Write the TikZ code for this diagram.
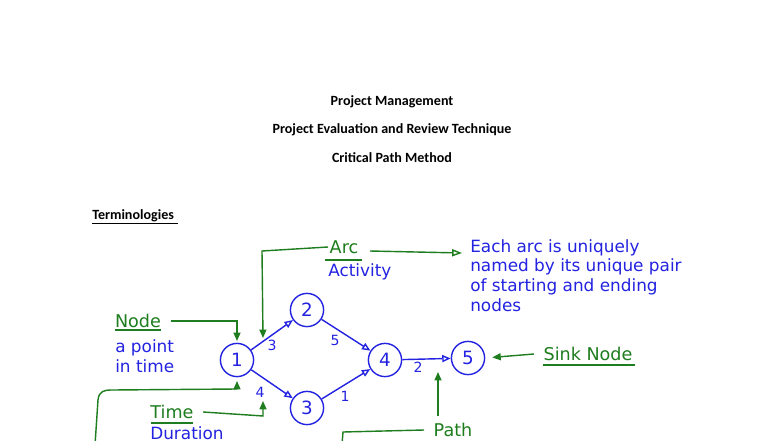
\documentclass[tikz,border=0pt]{standalone}
\usepackage{fontspec}
\setmainfont{Carlito}
\newfontfamily\handfont{DejaVu Sans}
\usetikzlibrary{positioning,arrows.meta}
\definecolor{inkblue}{RGB}{35,35,225}
\definecolor{inkgreen}{RGB}{30,125,30}

\tikzset{
  event/.style={circle,draw=inkblue,line width=1pt,minimum size=0.83cm,inner sep=0pt,
    text=inkblue,font=\handfont\fontsize{13}{13}\selectfont},
  activity/.style={draw=inkblue,line width=1pt,-{Triangle[open,length=6pt,width=5pt]}},
  weight/.style={text=inkblue,font=\handfont\fontsize{10}{10}\selectfont},
  pointer/.style={draw=inkgreen,line width=1pt,-{Triangle[length=6pt,width=5pt]}},
  openpointer/.style={draw=inkgreen,line width=1pt,-{Triangle[open,length=7pt,width=5pt]}},
  term/.style={text=inkgreen,font=\handfont\fontsize{12.5}{13}\selectfont,inner sep=1pt},
  meaning/.style={text=inkblue,font=\handfont\fontsize{12}{14}\selectfont,inner sep=0pt,align=left},
  heading/.style={font=\bfseries\fontsize{10}{10}\selectfont}
}

\begin{document}
\begin{tikzpicture}[x=0.025cm,y=-0.025cm]
  % Page size
  \useasboundingbox[fill=white] (0,0) rectangle (784,441);

  % Titles
  \node[heading] (t1) at (392,102) {Project Management};
  \node[heading] (t2) at (392,130) {Project Evaluation and Review Technique};
  \node[heading] (t3) at (392,158) {Critical Path Method};
  \node[heading,anchor=west,inner sep=0pt] (terms) at (92,216) {Terminologies};
  \draw (92,223) -- (178,223);

  % Network
  \node[event] (n1) at (237,360) {1};
  \node[event] (n2) at (307,310) {2};
  \node[event] (n3) at (307,408) {3};
  \node[event] (n4) at (385,360) {4};
  \node[event] (n5) at (468,358) {5};

  \draw[activity] (n1) -- (n2);
  \draw[activity] (n1) -- (n3);
  \draw[activity] (n2) -- (n4);
  \draw[activity] (n3) -- (n4);
  \draw[activity] (n4) -- (n5);

  \node[weight] (w12) at (272,345) {3};
  \node[weight] (w13) at (260,392) {4};
  \node[weight] (w24) at (335,340) {5};
  \node[weight] (w34) at (345,396) {1};
  \node[weight] (w45) at (418,367) {2};

  % Arc / Activity
  \node[term] (arcword) at (344,247) {Arc};
  \draw[inkgreen,line width=1pt] (325,260) -- (362,260);
  \node[meaning,anchor=west] (arcmean) at (328,272) {Activity};
  \node[meaning,anchor=north west] (arcnote) at (470,239)
    {Each arc is uniquely\\named by its unique pair\\of starting and ending\\nodes};
  \coordinate (arcbend) at (262,251);
  \coordinate (arctip) at (263,338);
  \coordinate (notetip) at (462,253);
  \draw[pointer] (arcword.west) -- (arcbend) -- (arctip);
  \draw[openpointer] ([xshift=0.25cm,yshift=-0.1cm]arcword.east) -- (notetip);

  % Node
  \node[term] (nodeword) at (138,321) {Node};
  \draw[inkgreen,line width=1pt] (115,330) -- (161,330);
  \node[meaning,anchor=west] (nodemean) at (115,356) {a point\\in time};
  \coordinate (nodebend) at (237,321);
  \coordinate (nodetip) at (237,341);
  \draw[pointer] ([xshift=0.2cm]nodeword.east) -- (nodebend) -- (nodetip);

  % Loop from below
  \coordinate (loopfoot) at (95,445);
  \coordinate (loopbend) at (237,389);
  \coordinate (looptip) at (237,381);
  \draw[pointer] (loopfoot) -- (98,400) .. controls (99,391) and (104,390) .. (112,390)
    -- (loopbend) -- (looptip);

  % Time / Duration
  \node[term] (timeword) at (172,412) {Time};
  \draw[inkgreen,line width=1pt] (151,423) -- (193,423);
  \node[meaning,anchor=base west] (timemean) at (150,439) {Duration};
  \coordinate (timebend) at (263,416);
  \coordinate (timetip) at (263,401);
  \draw[pointer] ([xshift=0.2cm]timeword.east) -- (timebend) -- (timetip);

  % Sink node
  \node[term] (sinkword) at (588,354) {Sink Node};
  \draw[inkgreen,line width=1pt] (543,365) -- (635,365);
  \draw[pointer,shorten >=5pt] ([xshift=-0.2cm]sinkword.west) -- (n5.east);

  % Path
  \node[term] (pathword) at (453,430) {Path};
  \coordinate (pathfoot) at (438,416);
  \coordinate (pathtip) at (438,372);
  \coordinate (pathbend) at (343,432);
  \draw[pointer] (pathfoot) -- (pathtip);
  \draw[inkgreen,line width=1pt] ([xshift=-0.2cm]pathword.west) -- (pathbend) -- (342,445);
\end{tikzpicture}
\end{document}
